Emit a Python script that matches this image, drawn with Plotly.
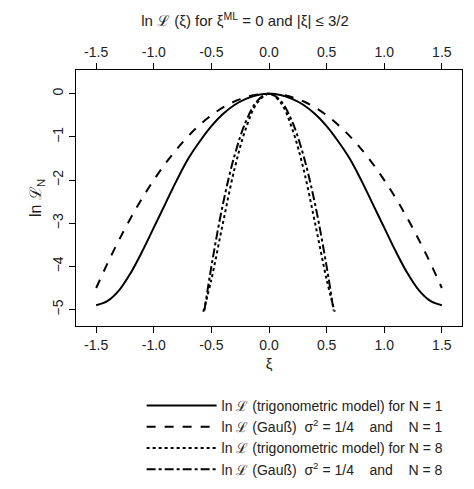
import plotly.graph_objects as go

xi_trig1 = [-1.5,-1.4,-1.3,-1.2,-1.1,-1.0,-0.9,-0.8,-0.7,-0.6,-0.5,-0.4,-0.3,-0.2,-0.1,0.0,0.1,0.2,0.3,0.4,0.5,0.6,0.7,0.8,0.9,1.0,1.1,1.2,1.3,1.4,1.5]
ll_trig1 = [-4.9,-4.8,-4.55,-4.15,-3.65,-3.1,-2.55,-2.0,-1.5,-1.1,-0.75,-0.47,-0.26,-0.12,-0.03,0.0,-0.03,-0.12,-0.26,-0.47,-0.75,-1.1,-1.5,-2.0,-2.55,-3.1,-3.65,-4.15,-4.55,-4.8,-4.9]
xi_gauss1 = [-1.5,-1.375,-1.25,-1.125,-1.0,-0.875,-0.75,-0.625,-0.5,-0.375,-0.25,-0.125,0.0,0.125,0.25,0.375,0.5,0.625,0.75,0.875,1.0,1.125,1.25,1.375,1.5]
ll_gauss1 = [-4.5,-3.78,-3.125,-2.53,-2.0,-1.53,-1.125,-0.78,-0.5,-0.28,-0.125,-0.03,0.0,-0.03,-0.125,-0.28,-0.5,-0.78,-1.125,-1.53,-2.0,-2.53,-3.125,-3.78,-4.5]
xi_trig8 = [-0.57,-0.5,-0.4,-0.3,-0.2,-0.1,0.0,0.1,0.2,0.3,0.4,0.5,0.57]
ll_trig8 = [-5.05,-4.3,-3.0,-1.75,-0.8,-0.2,0.0,-0.2,-0.8,-1.75,-3.0,-4.3,-5.05]
xi_gauss8 = [-0.56,-0.5,-0.4,-0.3,-0.2,-0.1,0.0,0.1,0.2,0.3,0.4,0.5,0.56]
ll_gauss8 = [-5.02,-4.0,-2.56,-1.44,-0.64,-0.16,0.0,-0.16,-0.64,-1.44,-2.56,-4.0,-5.02]
ticks = [-1.5,-1.0,-0.5,0.0,0.5,1.0,1.5]
tick_text = ["-1.5","-1.0","-0.5","0.0","0.5","1.0","1.5"]
yticks = [0,-1,-2,-3,-4,-5]

names = ["ln ℒ (trigonometric model) for N = 1",
         "ln ℒ (Gauß)  σ<sup>2</sup> = 1/4    and    N = 1",
         "ln ℒ (trigonometric model) for N = 8",
         "ln ℒ (Gauß)  σ<sup>2</sup> = 1/4    and    N = 8"]
series = [(xi_trig1, ll_trig1, "solid"), (xi_gauss1, ll_gauss1, "dash"),
          (xi_trig8, ll_trig8, "dot"), (xi_gauss8, ll_gauss8, "dashdot")]

fig = go.Figure()
for (x, y, d), n in zip(series, names):
    fig.add_trace(go.Scatter(x=x, y=y, mode="lines", name=n, line_shape="spline",
                             line=dict(color="black", width=2, dash=d)))
fig.add_trace(go.Scatter(x=[0], y=[0], xaxis="x2", mode="markers", opacity=0,
                         showlegend=False, hoverinfo="skip"))

ax = dict(showline=True, linecolor="black", linewidth=1, mirror=True, ticks="outside",
          ticklen=6, tickcolor="black", showgrid=False, zeroline=False,
          tickfont=dict(size=14, color="#222"))
fig.update_layout(
    width=474, height=489, plot_bgcolor="white", paper_bgcolor="white",
    font=dict(family="Liberation Sans, Arial", color="#222"),
    margin=dict(l=68, r=20, t=62, b=162),
    title=dict(text="ln ℒ (ξ) for ξ<sup>ML</sup> = 0 and |ξ| ≤ 3/2", x=0.5, y=0.985,
               xanchor="center", font=dict(size=15)),
    xaxis=dict(ax, range=[-1.675, 1.675], tickvals=ticks, ticktext=tick_text,
               title=dict(text="ξ", font=dict(size=15), standoff=6)),
    xaxis2=dict(ax, range=[-1.675, 1.675], tickvals=ticks, ticktext=tick_text,
                overlaying="x", side="top", anchor="y"),
    yaxis=dict(ax, range=[-5.38, 0.55], tickvals=yticks, tickangle=-90,
               title=dict(text="ln ℒ<sub>N</sub>", font=dict(size=16), standoff=4)),
    legend=dict(x=0.17, y=-0.25, xanchor="left", yanchor="top", bgcolor="rgba(0,0,0,0)",
                font=dict(size=14), tracegroupgap=4, itemwidth=70),
)
fig.write_html("out.html")
